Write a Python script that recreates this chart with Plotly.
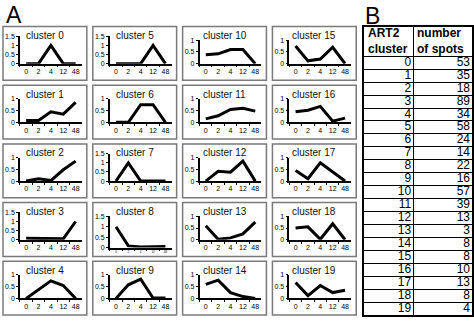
import plotly.graph_objects as go

W, H = 474, 322
FONT = "Liberation Sans, Arial, sans-serif"

# ---- data ----
time_points = ["0", "2", "4", "12", "48"]
cluster_0 = [0.0, 0.0, 1.0, 0.0, 0.0]
cluster_1 = [0.08, 0.08, 0.45, 0.35, 0.85]
cluster_2 = [0.0, 0.1, 0.02, 0.48, 0.85]
cluster_3 = [0.08, 0.08, 0.08, 0.05, 1.0]
cluster_4 = [0.0, 0.38, 0.75, 0.55, 0.0]
cluster_5 = [0.0, 0.0, 0.0, 1.0, 0.0]
cluster_6 = [0.0, 0.0, 0.75, 0.75, 0.0]
cluster_7 = [0.0, 1.0, 0.0, 0.0, 0.0]
cluster_8 = [1.0, 0.08, 0.03, 0.03, 0.05]
cluster_9 = [0.0, 0.58, 0.82, 0.02, 0.02]
cluster_10 = [0.38, 0.42, 0.6, 0.6, 0.0]
cluster_11 = [0.15, 0.28, 0.55, 0.6, 0.48]
cluster_12 = [0.0, 0.42, 0.38, 0.85, 0.0]
cluster_13 = [0.6, 0.02, 0.08, 0.25, 0.75]
cluster_14 = [0.6, 0.78, 0.25, 0.08, 0.0]
cluster_15 = [0.75, 0.12, 0.2, 0.7, 0.0]
cluster_16 = [0.45, 0.52, 0.68, 0.05, 0.18]
cluster_17 = [0.45, 0.1, 0.78, 0.4, 0.0]
cluster_18 = [0.5, 0.55, 0.02, 0.68, 0.0]
cluster_19 = [0.68, 0.12, 0.55, 0.25, 0.35]
profiles = [cluster_0, cluster_1, cluster_2, cluster_3, cluster_4,
            cluster_5, cluster_6, cluster_7, cluster_8, cluster_9,
            cluster_10, cluster_11, cluster_12, cluster_13, cluster_14,
            cluster_15, cluster_16, cluster_17, cluster_18, cluster_19]
axis_max = [1.5, 1, 1, 1.5, 1, 1.5, 1, 1.5, 1.5, 1,
            1, 1, 1, 1, 1, 1, 1, 1, 1, 1]
cluster_ids = [str(i) for i in range(20)]
spot_counts = [53, 35, 18, 89, 34, 58, 24, 14, 22, 16,
               57, 39, 13, 3, 8, 8, 10, 13, 8, 4]
table_header = ["<b>ART2<br>cluster</b>", "<b>number<br>of spots</b>"]

# ---- layout helpers ----
def fx(px):
    return px / W

def fy(py):
    return 1 - py / H

box_left = [3, 93, 183, 273]
box_top = [23, 83, 143, 203, 263]
box_w, box_h = 84, 55

fig = go.Figure()
shapes = []
annotations = []
layout_axes = {}

for i, vals in enumerate(profiles):
    col, row = i // 5, i % 5
    L, T = box_left[col], box_top[row]
    ymax = axis_max[i]
    top_off = 10 if ymax > 1 else 14
    bot_off = 38
    xfont = 7
    if i == 8:
        top_off, bot_off, xfont = 14, 46, 3
    k = i + 1
    xa = "x" if k == 1 else f"x{k}"
    ya = "y" if k == 1 else f"y{k}"
    fig.add_trace(go.Scatter(x=time_points, y=vals, mode="lines",
                             line=dict(color="black", width=3),
                             xaxis=xa, yaxis=ya, showlegend=False,
                             hoverinfo="skip"))
    xkey = "xaxis" if k == 1 else f"xaxis{k}"
    ykey = "yaxis" if k == 1 else f"yaxis{k}"
    layout_axes[xkey] = dict(
        domain=[fx(L + 17), fx(L + 79)], anchor=ya, type="category",
        categoryorder="array", categoryarray=time_points,
        range=[-0.5, 4.5], showline=True, linecolor="black", linewidth=1.5,
        ticks="outside", tickson="boundaries", ticklen=2, tickcolor="black",
        tickwidth=1, tickangle=0,
        tickfont=dict(size=xfont, family=FONT, color="black"),
        showgrid=False, zeroline=False, fixedrange=True)
    tv = [0, 0.5, 1, 1.5] if ymax > 1 else [0, 0.5, 1]
    layout_axes[ykey] = dict(
        domain=[fy(T + bot_off), fy(T + top_off)], anchor=xa,
        range=[0, ymax], tickvals=tv, ticktext=[f"{v:g}" for v in tv],
        showline=True, linecolor="black", linewidth=1.5, ticks="outside",
        ticklen=2, tickcolor="black", tickwidth=1,
        tickfont=dict(size=7, family=FONT, color="black"),
        showgrid=False, zeroline=False, fixedrange=True)
    shapes.append(dict(type="rect", xref="paper", yref="paper",
                       x0=fx(L), x1=fx(L + box_w), y0=fy(T + box_h), y1=fy(T),
                       line=dict(color="#7a7a7a", width=1.5), layer="below"))
    annotations.append(dict(text=f"cluster {i}", x=fx(L + 42), y=fy(T + 9),
                            xref="paper", yref="paper", showarrow=False,
                            xanchor="center", yanchor="middle",
                            font=dict(size=10, family=FONT, color="#111")))

annotations.append(dict(text="A", x=fx(4), y=fy(11), xref="paper", yref="paper",
                        showarrow=False, xanchor="left", yanchor="middle",
                        font=dict(size=23, family=FONT, color="black")))
annotations.append(dict(text="B", x=fx(364), y=fy(12), xref="paper", yref="paper",
                        showarrow=False, xanchor="left", yanchor="middle",
                        font=dict(size=23, family=FONT, color="black")))

# ---- table (panel B) drawn on its own axes ----
n_rows = len(cluster_ids)
hdr = 2.3  # header height in row units
tx, ty = "x21", "y21"
col_w = [49, 59]
fig.add_trace(go.Scatter(x=[col_w[0] - 2] * n_rows, y=list(range(n_rows)),
                         text=cluster_ids, mode="text", textposition="middle left",
                         textfont=dict(size=12, family=FONT, color="black"),
                         xaxis=tx, yaxis=ty, showlegend=False, hoverinfo="skip"))
fig.add_trace(go.Scatter(x=[sum(col_w) - 2] * n_rows, y=list(range(n_rows)),
                         text=[str(v) for v in spot_counts], mode="text",
                         textposition="middle left",
                         textfont=dict(size=12, family=FONT, color="black"),
                         xaxis=tx, yaxis=ty, showlegend=False, hoverinfo="skip"))
for j, htxt in enumerate(table_header):
    annotations.append(dict(text=htxt, x=sum(col_w[:j]) + 1.5, y=-0.5 - hdr / 2,
                            xref=tx, yref=ty, showarrow=False, align="left",
                            xanchor="left", yanchor="middle",
                            font=dict(size=12, family=FONT, color="black")))

layout_axes["xaxis21"] = dict(
    domain=[fx(365), fx(473)], anchor=ty, range=[0, sum(col_w)],
    tickvals=[col_w[0]], showticklabels=False, ticks="",
    showgrid=True, gridcolor="black", gridwidth=1,
    showline=True, mirror=True, linecolor="black", linewidth=1.5,
    zeroline=False, fixedrange=True)
layout_axes["yaxis21"] = dict(
    domain=[fy(318), fy(23)], anchor=tx, range=[n_rows - 0.5, -0.5 - hdr],
    tickvals=[r - 0.5 for r in range(n_rows + 1)], showticklabels=False,
    ticks="", showgrid=True, gridcolor="black", gridwidth=1,
    showline=True, mirror=True, linecolor="black", linewidth=1.5,
    zeroline=False, fixedrange=True)

fig.update_layout(width=W, height=H, margin=dict(l=0, r=0, t=0, b=0),
                  paper_bgcolor="white", plot_bgcolor="rgba(0,0,0,0)",
                  shapes=shapes, annotations=annotations, **layout_axes)

fig.write_html("out.html")
